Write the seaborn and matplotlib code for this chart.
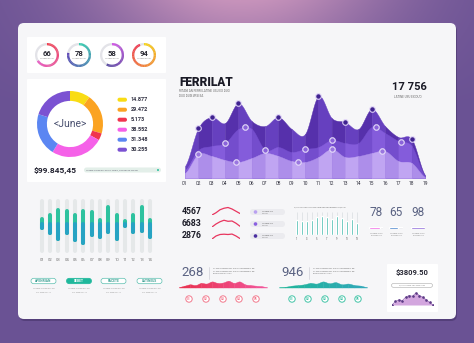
import numpy as np
import matplotlib
matplotlib.use("Agg")
import matplotlib.pyplot as plt
from matplotlib.patches import FancyBboxPatch, Wedge, Circle
from matplotlib.colors import to_rgb
import seaborn as sns
import pandas as pd

sns.set_theme(style="white")
plt.rcParams["font.family"] = ["Roboto", "DejaVu Sans"]

W, H = 474, 343

# ------------------------------------------------------------------ data
gauge_values = [66, 78, 58, 94]
donut_labels = ["14.877", "29.472", "5.173", "38.552", "31.348", "30.255"]
donut_values = [14.877, 29.472, 5.173, 38.552, 31.348, 30.255]
donut_colors = ["#f9dc14", "#fba322", "#f0344f", "#f561e8", "#5b86f2", "#7b52d2"]

area_x = list(range(1, 20))
area_top = [12, 50, 61, 55, 75, 57, 52, 61, 49, 44, 82, 60, 56, 49, 69, 52, 41, 39, 3]
area_mid = [8, 28, 32, 35, 49, 49, 28, 31, 26, 29, 31, 38, 35, 35, 51, 45, 37, 32, 2]
area_low = [5, 24, 22, 18, 16, 20, 25, 22, 17, 16, 21, 29, 21, 22, 25, 27, 17, 15, 1]
top_marks = [2, 3, 5, 8, 11, 13, 15, 18]
mid_marks = [4, 5.5, 7, 10, 12, 15.3, 17.2]
low_marks = [2, 4.8, 9.5, 12, 15.8]

range_high = [64, 72, 82, 80, 72, 80, 78, 62, 88, 72, 60, 72, 88, 62]
range_low = [46, 36, 24, 36, 22, 16, 32, 28, 38, 24, 50, 38, 40, 28]
range_labels = [f"{i:02d}" for i in range(1, 15)]
buttons = ["APENRIAN", "DEBET", "FACETE", "LATINEUS"]

kpi_values = ["4567", "6683", "2876"]
spark1 = [0, 1.5, 3.5, 4.5, 5.0, 4.0, 2.5, 1.0]
spark2 = [0, 2.0, 3.5, 4.5, 3.8, 4.0, 2.5, 0.5]
spark3 = [0, 2.0, 3.0, 3.2, 3.0, 3.3, 2.0, 0.3]

small_bars = [14, 13.3, 13.7, 14.7, 17, 18.3, 17.3, 15.3, 18, 16, 13.7, 15.7, 11.7]
mini_kpis = [78, 65, 98]
mini_colors = ["#f052e2", "#2a6fc4", "#7a50d4"]

red_area = [0.5, 1.7, 3, 2.3, 4.3, 3.7, 5.7, 4.3, 4.7, 6.3, 4.3, 5.7, 3, 2.3, 1.7, 1.3, 0.3]
teal_area = [0.3, 0.7, 1.7, 2.3, 3, 4.3, 3.7, 5.7, 4, 5, 3, 3.7, 2.3, 1.7, 0.3]
purple_area = [0, 2.7, 4, 3.3, 6, 7.3, 6.7, 9.3, 7.3, 6, 4, 2, 0]
step_labels = ["01", "02", "03", "04", "05"]


# ------------------------------------------------------------------ helpers
def mix(c0, c1, t):
    a, b = np.array(to_rgb(c0)), np.array(to_rgb(c1))
    return tuple(a * (1 - t) + b * t)


def smooth(x, y, n=24):
    x = np.asarray(x, float)
    y = np.asarray(y, float)
    P = np.concatenate([[y[0]], y, [y[-1]]])
    xx, yy = [], []
    t = np.linspace(0, 1, n, endpoint=False)
    for i in range(len(y) - 1):
        p0, p1, p2, p3 = P[i], P[i + 1], P[i + 2], P[i + 3]
        yy.append(0.5 * (2 * p1 + (-p0 + p2) * t + (2 * p0 - 5 * p1 + 4 * p2 - p3) * t ** 2
                         + (-p0 + 3 * p1 - 3 * p2 + p3) * t ** 3))
        xx.append(x[i] + t * (x[i + 1] - x[i]))
    xx.append([x[-1]])
    yy.append([y[-1]])
    return np.concatenate(xx), np.clip(np.concatenate(yy), 0, None)


fig = plt.figure(figsize=(W / 100, H / 100), dpi=100)


def px_axes(x0, y0, x1, y1, z=3):
    ax = fig.add_axes([x0 / W, 1 - y1 / H, (x1 - x0) / W, (y1 - y0) / H], zorder=z)
    ax.set_facecolor("none")
    for s in ax.spines.values():
        s.set_visible(False)
    ax.set_xticks([])
    ax.set_yticks([])
    return ax


# ------------------------------------------------------------------ background
bg = fig.add_axes([0, 0, 1, 1], zorder=0)
bg.set_xlim(0, W)
bg.set_ylim(H, 0)
bg.axis("off")
gx, gy = np.meshgrid(np.arange(W), np.arange(H))
w = np.exp(-((gx - 240) / 150.0) ** 2) * np.clip(1 - gy / 110.0, 0, 1)
base = np.array(to_rgb("#6a5294"))
pink = np.array(to_rgb("#c793bb"))
img = base[None, None, :] * (1 - w[..., None]) + pink[None, None, :] * w[..., None]
bg.imshow(img, extent=(0, W, H, 0), aspect="auto", zorder=0)

bg.add_patch(FancyBboxPatch((19, 25), 438, 296, boxstyle="round,pad=0,rounding_size=6",
                            fc="#3b2a5c", ec="none", alpha=0.45, zorder=1))
bg.add_patch(FancyBboxPatch((18, 23), 438, 296, boxstyle="round,pad=0,rounding_size=6",
                            fc="#f6f6f8", ec="none", zorder=1))
for (x0, y0, x1, y1) in [(27, 37, 166, 73), (27, 79, 166, 182), (387, 264, 438, 312)]:
    bg.add_patch(FancyBboxPatch((x0, y0), x1 - x0, y1 - y0, boxstyle="round,pad=0,rounding_size=1",
                                fc="white", ec="none", zorder=1))

# ------------------------------------------------------------------ gauges
gauge_cols = [("#f2414f", "#e85bc4"), ("#35d0b0", "#5b43b5"),
              ("#d35ce6", "#4b3c9a"), ("#f7d51a", "#ef3a55")]
for cx, v, (c0, c1) in zip([47, 79, 112, 144], gauge_values, gauge_cols):
    bg.add_patch(Wedge((cx, 55), 12, 0, 360, width=2.3, fc="#e3e3e8", ec="none", zorder=2))
    span = 3.6 * v
    n = 40
    for k in range(n):
        a0 = 270 + span * k / n
        a1 = min(270 + span * (k + 1) / n + 0.6, 270 + span)
        bg.add_patch(Wedge((cx, 55), 12, a0, a1, width=2.3, fc=mix(c0, c1, k / (n - 1)),
                           ec="none", zorder=2))
    bg.text(cx, 53.5, str(v), ha="center", va="center", fontsize=5.5, weight="bold",
            color="#262630", zorder=3)
    bg.text(cx, 58.5, "LOREM IPSUM", ha="center", va="center", fontsize=1.5,
            color="#888", zorder=3)

# ------------------------------------------------------------------ donut
dax = px_axes(37, 91, 103, 157)
dax.pie(donut_values, colors=donut_colors, startangle=90, counterclock=False,
        wedgeprops=dict(width=0.3, edgecolor="none"))
dax.set_xlim(-1, 1)
dax.set_ylim(-1, 1)
dax.text(0, 0, "<June>", ha="center", va="center", fontsize=7.5, color="#4a5170")
for i, (lab, col) in enumerate(zip(donut_labels, donut_colors)):
    y = 99.7 + 10 * i
    bg.add_patch(FancyBboxPatch((117.5, y - 2), 9.5, 4, boxstyle="round,pad=0,rounding_size=2",
                                fc=col, ec="none", zorder=2))
    bg.text(131, y, lab, va="center", fontsize=4, weight="bold", color="#333344", zorder=3)
bg.text(34, 170, "$99.845,45", va="center", fontsize=6, weight="bold", color="#222230", zorder=3)
bg.add_patch(FancyBboxPatch((84, 167.5), 77, 5, boxstyle="round,pad=0,rounding_size=2.5",
                            fc="#e3efe9", ec="none", zorder=2))
bg.text(86, 170, "LOREM IPSUM DOLOR SIT AMET, CONSECTETUR AD", va="center", fontsize=1.6,
        color="#667", zorder=3)
bg.add_patch(Circle((158, 170), 1, fc="#2fc09e", ec="none", zorder=3))

# ------------------------------------------------------------------ main area chart
bg.text(179, 82, "FERRILAT", va="center", fontsize=8.5, weight="heavy", color="#1a1a26", zorder=3)
bg.text(179, 91, "RITANI AN FERRI LATINE USU EX DUO", va="center", fontsize=2.2, color="#666", zorder=3)
bg.text(179, 96, "DUO DUIS WISI EA", va="center", fontsize=2.2, color="#666", zorder=3)
bg.text(392, 87, "17 756", va="center", fontsize=8, weight="bold", color="#1a1a26", zorder=3)
bg.text(394, 96.5, "LATINE USU EX DUO", va="center", fontsize=2.2, color="#666", zorder=3)

max_ = px_axes(185, 88, 425, 178)
max_.set_xlim(1, 19)
max_.set_ylim(0, 90)
layers = [(area_top, ("#6640bf", "#5630ab")),
          (area_mid, ("#845cdb", "#744dcd")),
          (area_low, ("#c0a5f2", "#ad8eea"))]
curves = []
for z, (vals, cols) in enumerate(layers):
    fx, fy = smooth(area_x, vals)
    curves.append((fx, fy))
    for i in range(len(area_x) - 1):
        m = (fx >= area_x[i]) & (fx <= area_x[i + 1])
        max_.fill_between(fx[m], 0, fy[m], color=cols[i % 2], lw=0.3, ec=cols[i % 2], zorder=z + 1)
for (fx, fy), marks, outer, inner in [(curves[0], top_marks, "#ebe3fb", "#3f2290"),
                                      (curves[1], mid_marks, "white", "#8a62da"),
                                      (curves[2], low_marks, "white", "#9a76e0")]:
    my = np.interp(marks, fx, fy)
    max_.scatter(marks, my, s=19, color=outer, edgecolor="#d7c8f6", linewidth=0.4, zorder=6)
    max_.scatter(marks, my, s=5, color=inner, zorder=7)
max_.set_xticks(area_x)
max_.set_xticklabels([f"{i:02d}" for i in area_x])
max_.tick_params(axis="x", length=0, labelsize=3.5, pad=2, colors="#333340")

# ------------------------------------------------------------------ range bars
rax = px_axes(37.5, 201, 154.2, 251)
rax.set_xlim(0.5, 14.5)
rax.set_ylim(0, 100)
split = 58
for i, (lo, hi) in enumerate(zip(range_low, range_high), start=1):
    rax.plot([i, i], [0, 100], color="#e5e8e9", lw=2.9, solid_capstyle="round", clip_on=False, zorder=1)
    rax.plot([i, i], [lo, hi], color="#2ec29f", lw=2.9, solid_capstyle="round", clip_on=False, zorder=2)
    top_blue = min(hi, split) - 4
    if top_blue > lo:
        rax.plot([i, i], [lo, top_blue], color="#27a3c3", lw=2.9, solid_capstyle="round",
                 clip_on=False, zorder=3)
rax.set_xticks(range(1, 15))
rax.set_xticklabels(range_labels)
rax.tick_params(axis="x", length=0, labelsize=3, pad=5, colors="#777")

for cx, lab in zip([43.5, 79, 113.5, 149.5], buttons):
    filled = lab == "DEBET"
    bg.add_patch(FancyBboxPatch((cx - 12.5, 278.3), 25, 5.4, boxstyle="round,pad=0,rounding_size=2.7",
                                fc="#1fb89c" if filled else "white",
                                ec="#1fb89c" if filled else "#5bbfb0", lw=0.5, zorder=2))
    bg.text(cx, 281, lab, ha="center", va="center", fontsize=2.3, weight="bold",
            color="white" if filled else "#3a9e92", zorder=3)
    bg.text(cx, 288.8, "LOREM IPSUM DOLOR", ha="center", va="center", fontsize=1.6, color="#999", zorder=3)
    bg.text(cx, 292.2, "SIT AMET ELIT", ha="center", va="center", fontsize=1.6, color="#999", zorder=3)

# ------------------------------------------------------------------ middle row
spark_sets = [spark1, spark2, spark3]
for yc, kv, sp, dot in zip([212, 224, 236], kpi_values, spark_sets, ["#b9a0f0", "#8a60e0", "#4a2fa0"]):
    bg.text(182, yc, kv, va="center", fontsize=6.3, weight="bold", color="#1c1c28", zorder=3)
    sax = px_axes(212, yc - 6, 240, yc + 3)
    sns.lineplot(x=list(range(len(sp))), y=sp, ax=sax, color="#e8365f", lw=0.9)
    sax.set_ylim(0, 6)
    sax.set_xlim(0, len(sp) - 1)
    sax.set_xlabel("")
    sax.set_ylabel("")
    bg.add_patch(FancyBboxPatch((250, yc - 3), 35, 6, boxstyle="round,pad=0,rounding_size=3",
                                fc="#ebebef", ec="none", zorder=2))
    bg.add_patch(Circle((255.5, yc), 1.8, fc=dot, ec="none", zorder=3))
    bg.text(262, yc - 0.8, "LOREM IPS", va="center", fontsize=1.6, color="#666", zorder=3)
    bg.text(262, yc + 1.0, "DOLOR", va="center", fontsize=1.6, color="#999", zorder=3)

bg.text(294.5, 207.5, "QUIS AUTEM VEL EUM IURE REPREHENDERIT QUI IN", va="center", fontsize=1.6,
        color="#777", zorder=3)
bax = px_axes(294, 212, 360, 235)
idx = [str(i + 1) for i in range(len(small_bars))]
bax.vlines(range(len(small_bars)), 0, 22, color="#dde1e4", lw=0.6, zorder=0)
sns.barplot(x=idx, y=small_bars, color="#22ae9f", width=0.5, ax=bax, zorder=2, saturation=1)
bax.set_ylim(0, 22)
bax.set_xlim(-0.6, len(small_bars) - 0.4)
bax.set_xlabel("")
bax.set_ylabel("")
bax.set_xticks(range(0, len(small_bars), 2))
bax.set_xticklabels([idx[i] for i in range(0, len(small_bars), 2)])
bax.tick_params(axis="x", length=0, labelsize=1.8, pad=1.5, colors="#555")
bax.set_yticks([])

for cx, v, col in zip([376, 396, 418], mini_kpis, mini_colors):
    bg.text(cx, 213, str(v), ha="center", va="center", fontsize=8.5, color="#5a6282", zorder=3)
    kax = px_axes(cx - 7, 226.7, cx + 7, 229.3)
    kax.barh([0], [100], color="#e4e4ea", height=1)
    kax.barh([0], [v], color=col, height=1)
    kax.set_xlim(0, 100)
    kax.set_ylim(-0.5, 0.5)
    bg.text(cx, 233.2, "LOREM IPSU", ha="center", va="center", fontsize=1.6, color="#888", zorder=3)
    bg.text(cx, 235.8, "DOLOR SIT", ha="center", va="center", fontsize=1.6, color="#888", zorder=3)

# ------------------------------------------------------------------ bottom row
def bottom_area(x0, x1, vals, c0, c1):
    ax = px_axes(x0, 279, x1, 287.5)
    xs = list(range(len(vals)))
    fx, fy = smooth(xs, vals, n=12)
    for i in range(len(xs) - 1):
        m = (fx >= xs[i]) & (fx <= xs[i + 1])
        c = mix(c0, c1, i / (len(xs) - 2))
        ax.fill_between(fx[m], 0, fy[m], color=c, lw=0.3, ec=c)
    ax.set_xlim(0, len(vals) - 1)
    ax.set_ylim(0, 8)
    return ax


for (tx, num, vals, c0, c1, ring, cxs) in [
        (181, "268", red_area, "#e8304f", "#f2569a", "#f27a8e", [189, 206, 223, 239, 256]),
        (281, "946", teal_area, "#1fb59a", "#2fa8b8", "#44c4a8", [292, 308, 325, 342, 358])]:
    bg.text(tx, 273, num, va="center", fontsize=9.5, color="#5a6282", zorder=3)
    bg.plot([tx + 28, tx + 28], [267, 279], color="#d0d0d8", lw=0.5, zorder=3)
    for k, yy in enumerate([268.5, 271, 273.5]):
        bg.text(tx + 32, yy, "CLAM INTERESSET SIGITI HENDRERIT DE" if k < 2 else "EOS DISSENTIUNT",
                va="center", fontsize=1.6, color="#777", zorder=3)
    bottom_area(tx - 2, tx + 86, vals, c0, c1)
    for cx, lab in zip(cxs, step_labels):
        bg.add_patch(Circle((cx, 299), 3.2, fc="white", ec=ring, lw=0.7, zorder=3))
        bg.text(cx, 299, lab, ha="center", va="center", fontsize=2.4, weight="bold", color=ring, zorder=4)

bg.text(412.5, 273, "$3809.50", ha="center", va="center", fontsize=5.5, weight="bold",
        color="#2a2a36", zorder=3)
bg.add_patch(FancyBboxPatch((391.5, 283.5), 41, 3.8, boxstyle="round,pad=0,rounding_size=1.9",
                            fc="white", ec="#aaa", lw=0.4, zorder=3))
bg.text(412, 285.4, "QUIS AUTEM VEL EUM IURE", ha="center", va="center", fontsize=1.5, color="#888", zorder=4)
pax = px_axes(392, 292, 433, 305)
pxs = list(range(len(purple_area)))
pax.fill_between(pxs, 0, purple_area, color="#d3a6de", lw=0)
sns.lineplot(x=pxs, y=purple_area, ax=pax, color="#9563b5", lw=0.5)
pax.scatter(pxs, purple_area, s=0.8, color="#5d3c86", zorder=3)
pax.set_xlim(0, len(purple_area) - 1)
pax.set_ylim(0, 10)
pax.set_xlabel("")
pax.set_ylabel("")

fig.savefig("out.png", dpi=100)
